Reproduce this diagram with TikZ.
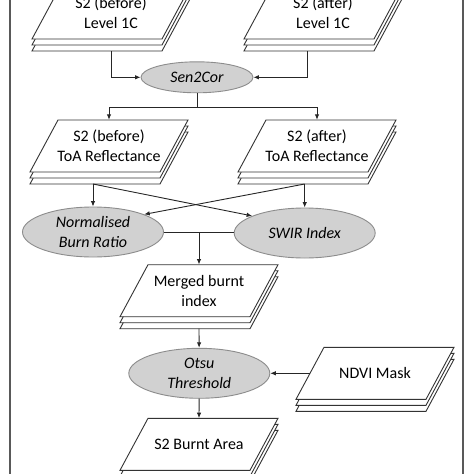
\documentclass[tikz,border=0pt]{standalone}
\usepackage{fontspec}
\setmainfont{Carlito}
\usetikzlibrary{arrows.meta,shapes.geometric}
\tikzset{
  layer/.style={draw=black!80, fill=white, line width=0.9pt, line join=miter},
  stacktext/.style={inner sep=0pt, minimum width=100pt, minimum height=52pt, align=center, text=black, font=\fontsize{16}{20}\selectfont},
  proc/.style={ellipse, draw=black!45, fill=black!18, line width=0.9pt, inner sep=0pt, align=center, text=black, font=\fontsize{16}{20}\selectfont\itshape, minimum width=141pt, minimum height=50pt},
  conn/.style={line width=0.9pt, draw=black!85},
  arr/.style={conn, -{Latex[length=5.5pt,width=4.5pt]}},
  frame/.style={line width=2pt, draw=black!65}
}
\newcommand\pstack[4]{%
  \foreach \dy in {12,6,0}{%
    \draw[layer] ({#2-79},{#3+26+\dy}) -- ({#2+51},{#3+26+\dy}) -- ({#2+79},{#3-26+\dy}) -- ({#2-51},{#3-26+\dy}) -- cycle;
  }
  \node[stacktext] (#1) at (#2,#3) {#4};
  \coordinate (#1-b) at (#2,{#3+38});
  \coordinate (#1-l) at ({#2-65},#3);
}
\begin{document}
\begin{tikzpicture}[x=1pt,y=-1pt]
\useasboundingbox (0,0) rectangle (474,474);
\fill[white] (0,0) rectangle (474,474);
\clip (0,0) rectangle (474,474);
\draw[frame] (10,-10) rectangle (463,490);

\pstack{l1b}{111}{13}{S2 (before)\\Level 1C}
\pstack{l1a}{323}{13}{S2 (after)\\Level 1C}
\node[proc, minimum width=112pt, minimum height=31pt] (sen) at (197,77.3) {Sen2Cor};
\pstack{toab}{109}{146}{S2 (before)\\ToA Reflectance}
\pstack{toaa}{317}{146}{S2 (after)\\ToA Reflectance}
\node[proc] (nbr) at (93,232) {Normalised\\Burn Ratio};
\node[proc] (swir) at (304.7,233) {SWIR Index};
\pstack{merged}{199}{290.7}{Merged burnt\\index}
\node[proc] (otsu) at (199.3,373.3) {Otsu\\Threshold};
\pstack{ndvi}{375}{373.3}{NDVI Mask}
\pstack{burnt}{199}{444.3}{S2 Burnt Area}

\coordinate (l1a-o) at (307,51);
\coordinate (split) at (197,107.3);
\draw[arr] (l1b-b) |- (sen);
\draw[arr] (l1a-o) |- (sen);
\draw[conn] (sen) -- (split);
\draw[arr] (split) -| (toab.north);
\draw[arr] (split) -| (toaa.north);

\draw[arr] (toab-b -| nbr) -- (nbr);
\draw[arr] (toaa-b -| swir) -- (swir);
\draw[arr] (toab-b -| nbr) -- (swir.162);
\draw[arr] (toaa-b -| swir) -- (nbr.19);

\draw[conn] (nbr) -- (swir.west |- nbr);
\draw[arr] (merged.north |- nbr) -- (merged.north);
\draw[arr] (merged-b) -- (otsu);
\draw[arr] (ndvi-l) -- (otsu);
\draw[arr] (otsu) -- (burnt.north);
\end{tikzpicture}
\end{document}
